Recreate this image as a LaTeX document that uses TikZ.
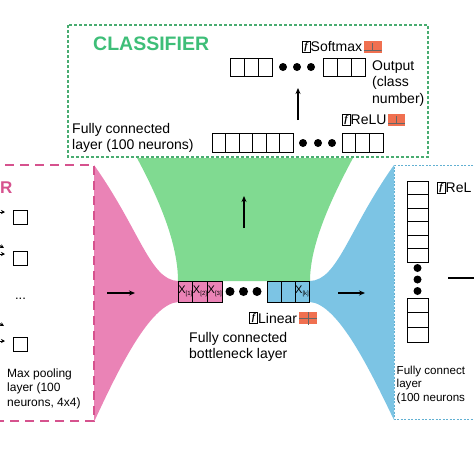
\documentclass[tikz,border=0pt]{standalone}
\usepackage{fontspec}
\setmainfont{Liberation Sans}
\newfontfamily\serifit{Liberation Serif}
\usetikzlibrary{arrows.meta}
\definecolor{pinkfill}{RGB}{234,131,182}
\definecolor{greenfill}{RGB}{128,218,145}
\definecolor{bluefill}{RGB}{124,196,228}
\definecolor{pinkline}{RGB}{214,82,142}
\definecolor{greenline}{RGB}{72,172,112}
\definecolor{blueline}{RGB}{98,176,210}
\definecolor{greentext}{RGB}{62,190,120}
\definecolor{orangec}{RGB}{240,112,80}
\begin{document}
\begin{tikzpicture}[x=1pt,y=-1pt,
  cell/.style={draw, line width=0.9pt, minimum width=14pt, minimum height=18pt, inner sep=0pt},
  dot/.style={circle, fill=black, inner sep=0pt, minimum size=8pt},
  lbl/.style={font=\fontsize{14}{16.5}\selectfont, inner sep=0pt, align=left},
  sml/.style={font=\fontsize{12}{14.5}\selectfont, inner sep=0pt, align=left},
  ficon/.style={draw, line width=0.6pt, minimum width=8pt, minimum height=11pt, inner sep=0pt,
     font=\fontsize{10}{10}\selectfont\serifit\bfseries\itshape},
  stepicon/.style={fill=orangec, minimum width=18pt, minimum height=12pt, inner sep=0pt,
     path picture={\draw[line width=0.5pt, black!60]
       ([yshift=2.5pt]path picture bounding box.south west) -- ([yshift=2.5pt]path picture bounding box.south east);
       \draw[line width=0.5pt, black!60] ([yshift=2.5pt]path picture bounding box.south) -- ([yshift=-2pt]path picture bounding box.north);}},
  linicon/.style={fill=orangec, minimum width=18pt, minimum height=12pt, inner sep=0pt,
     path picture={\draw[line width=0.5pt, black!60]
       (path picture bounding box.west) -- (path picture bounding box.east);
       \draw[line width=0.5pt, black!60] ([yshift=-2pt]path picture bounding box.south) -- ([yshift=2pt]path picture bounding box.north);}},
  arr/.style={line width=1.2pt, -{Stealth[length=6pt,width=5pt]}},
  smallarr/.style={line width=1pt, -{Stealth[length=4pt,width=4pt]}},
  title/.style={font=\fontsize{19.5}{20}\selectfont\bfseries, inner sep=0pt},
  xlab/.style={font=\fontsize{11}{11}\selectfont}
]
\useasboundingbox (0,0) rectangle (474,474);
\clip (0,0) rectangle (474,474);

% funnels
\fill[greenfill] (137,158) .. controls (165,210) and (178,250) .. (178,281) -- (310,281) .. controls (310,250) and (325,210) .. (353,158) -- cycle;
\fill[pinkfill] (94,165) .. controls (140,230) and (150,280) .. (178,281) -- (178,302) .. controls (150,304) and (118,370) .. (94,422) -- cycle;
\fill[bluefill] (394,165) .. controls (348,230) and (338,280) .. (310,281) -- (310,302) .. controls (338,304) and (370,370) .. (394,420) -- cycle;

% dashed frames
\draw[greenline, line width=1.5pt, dash pattern=on 3pt off 2pt] (68,25) rectangle (428,157);
\draw[pinkline, line width=2pt, dash pattern=on 9pt off 6pt] (-10,165) -- (94,165) -- (94,421) -- (-10,421);
\draw[blueline, line width=1pt, dash pattern=on 2pt off 1.5pt] (480,165) -- (394,165) -- (394,419) -- (480,419);

% classifier
\node[title, text=greentext, anchor=west] (cls) at (93,44) {CLASSIFIER};
\foreach \i/\x in {1/237,2/251,3/265} \node[cell] (oa\i) at (\x,67) {};
\foreach \i/\x in {1/283,2/297,3/311} \node[dot] (od\i) at (\x,67) {};
\foreach \i/\x in {1/330,2/344,3/358} \node[cell] (ob\i) at (\x,67) {};
\node[lbl, anchor=north west] (outtxt) at (372,60.5) {Output\\(class\\number)};
\node[ficon] (fsm) at (306,47) {f};
\node[lbl, anchor=west] (sm) at (310.5,47) {Softmax};
\node[stepicon] (osm) at (372.5,47) {};

\foreach \i in {1,...,6} \node[cell, minimum width=13.5pt, minimum height=19pt] (fa\i) at ({212+6.75+13.5*(\i-1)},142.5) {};
\foreach \i/\x in {1/303,2/318,3/332} \node[dot] (fd\i) at (\x,143) {};
\foreach \i in {1,2,3} \node[cell, minimum width=13.7pt, minimum height=19pt] (fb\i) at ({342+6.85+13.7*(\i-1)},142.5) {};
\node[lbl, anchor=north west] (fctxt) at (72,122.8) {Fully connected\\layer (100 neurons)};
\node[ficon] (frl) at (346,120) {f};
\node[lbl, anchor=west] (rl) at (350.5,120) {ReLU};
\node[stepicon, minimum width=17pt] (orl) at (396.5,120) {};
\coordinate (ua) at (298,120);
\coordinate (ub) at (298,88);
\draw[arr] (ua) -- (ub);

% green arrow
\coordinate (ga) at (244,228);
\coordinate (gb) at (244,196);
\draw[arr] (ga) -- (gb);

% bottleneck
\foreach \i/\x/\l in {1/185.3/1,2/200/2,3/214.7/3}
  \node[cell, fill=pinkfill, minimum width=14.7pt, minimum height=21pt, xlab] (bp\i) at (\x,291.5)
    {\hspace*{-1pt}X\raisebox{-2pt}{\fontsize{6}{6}\selectfont[\l]}\hspace*{-1pt}};
\foreach \i/\x in {1/230,2/243.5,3/257} \node[dot, minimum size=9pt] (bd\i) at (\x,291.5) {};
\node[cell, fill=bluefill, minimum width=14pt, minimum height=21pt] (bb1) at (274,291.5) {};
\node[cell, fill=bluefill, minimum width=14pt, minimum height=21pt] (bb2) at (288,291.5) {};
\node[cell, fill=bluefill, minimum width=14pt, minimum height=21pt, xlab] (bb3) at (302,291.5)
    {\hspace*{-1pt}X\raisebox{-2pt}{\fontsize{6}{6}\selectfont[k]}\hspace*{-1pt}};
\node[ficon] (fln) at (253.5,318) {f};
\node[lbl, anchor=west] (ln) at (258,318) {Linear};
\node[linicon] (oln) at (308,318) {};
\node[lbl, anchor=north west] (bntxt) at (189,331.8) {Fully connected\\bottleneck layer};

% side arrows
\coordinate (la) at (107,293);
\coordinate (lb) at (135,293);
\draw[arr] (la) -- (lb);
\coordinate (ra) at (338,293);
\coordinate (rb) at (365,293);
\draw[arr] (ra) -- (rb);

% left encoder part
\node[title, text=pinkline, anchor=west, font=\fontsize{17}{17}\selectfont\bfseries] (enc) at (0,188) {R};
\foreach \i/\y in {1/217,2/258,3/344} {
  \node[draw, line width=0.8pt, minimum size=14pt, inner sep=0pt] (mp\i) at (20.5,\y) {};
}
\node[font=\fontsize{13}{13}\selectfont, inner sep=0pt] (mpd) at (20.5,299) {...};
\coordinate (s1a) at (-10,212); \coordinate (s1b) at (5,212);
\coordinate (s2a) at (-10,254); \coordinate (s2b) at (5,254);
\coordinate (s3a) at (-10,341); \coordinate (s3b) at (5,341);
\coordinate (s4a) at (-10,240); \coordinate (s4b) at (4,248);
\coordinate (s5a) at (-10,318); \coordinate (s5b) at (4,326);
\foreach \n in {1,...,5} \draw[smallarr] (s\n a) -- (s\n b);
\node[sml, anchor=north west] (mptxt) at (7,368.5) {Max pooling\\layer (100\\neurons, 4x4)};

% right part
\foreach \i in {1,...,6} \node[cell, minimum width=21pt, minimum height=13.5pt] (rc\i) at (417.5,{181+6.75+13.5*(\i-1)}) {};
\foreach \i/\y in {1/268,2/279.5,3/291} \node[dot] (rd\i) at (417.5,\y) {};
\foreach \i in {1,2,3} \node[cell, minimum width=21pt, minimum height=14.7pt] (rb\i) at (417.5,{298+7.35+14.7*(\i-1)}) {};
\node[ficon] (frr) at (441,188) {f};
\node[lbl, anchor=west] (rr) at (445.5,188) {ReL};
\coordinate (rla) at (448,278);
\coordinate (rlb) at (490,278);
\draw[line width=1.2pt] (rla) -- (rlb);
\node[sml, anchor=north west, font=\fontsize{11.6}{13.5}\selectfont] (rtxt) at (396.5,365.5) {Fully connect\\layer\\(100 neurons};
\end{tikzpicture}
\end{document}
